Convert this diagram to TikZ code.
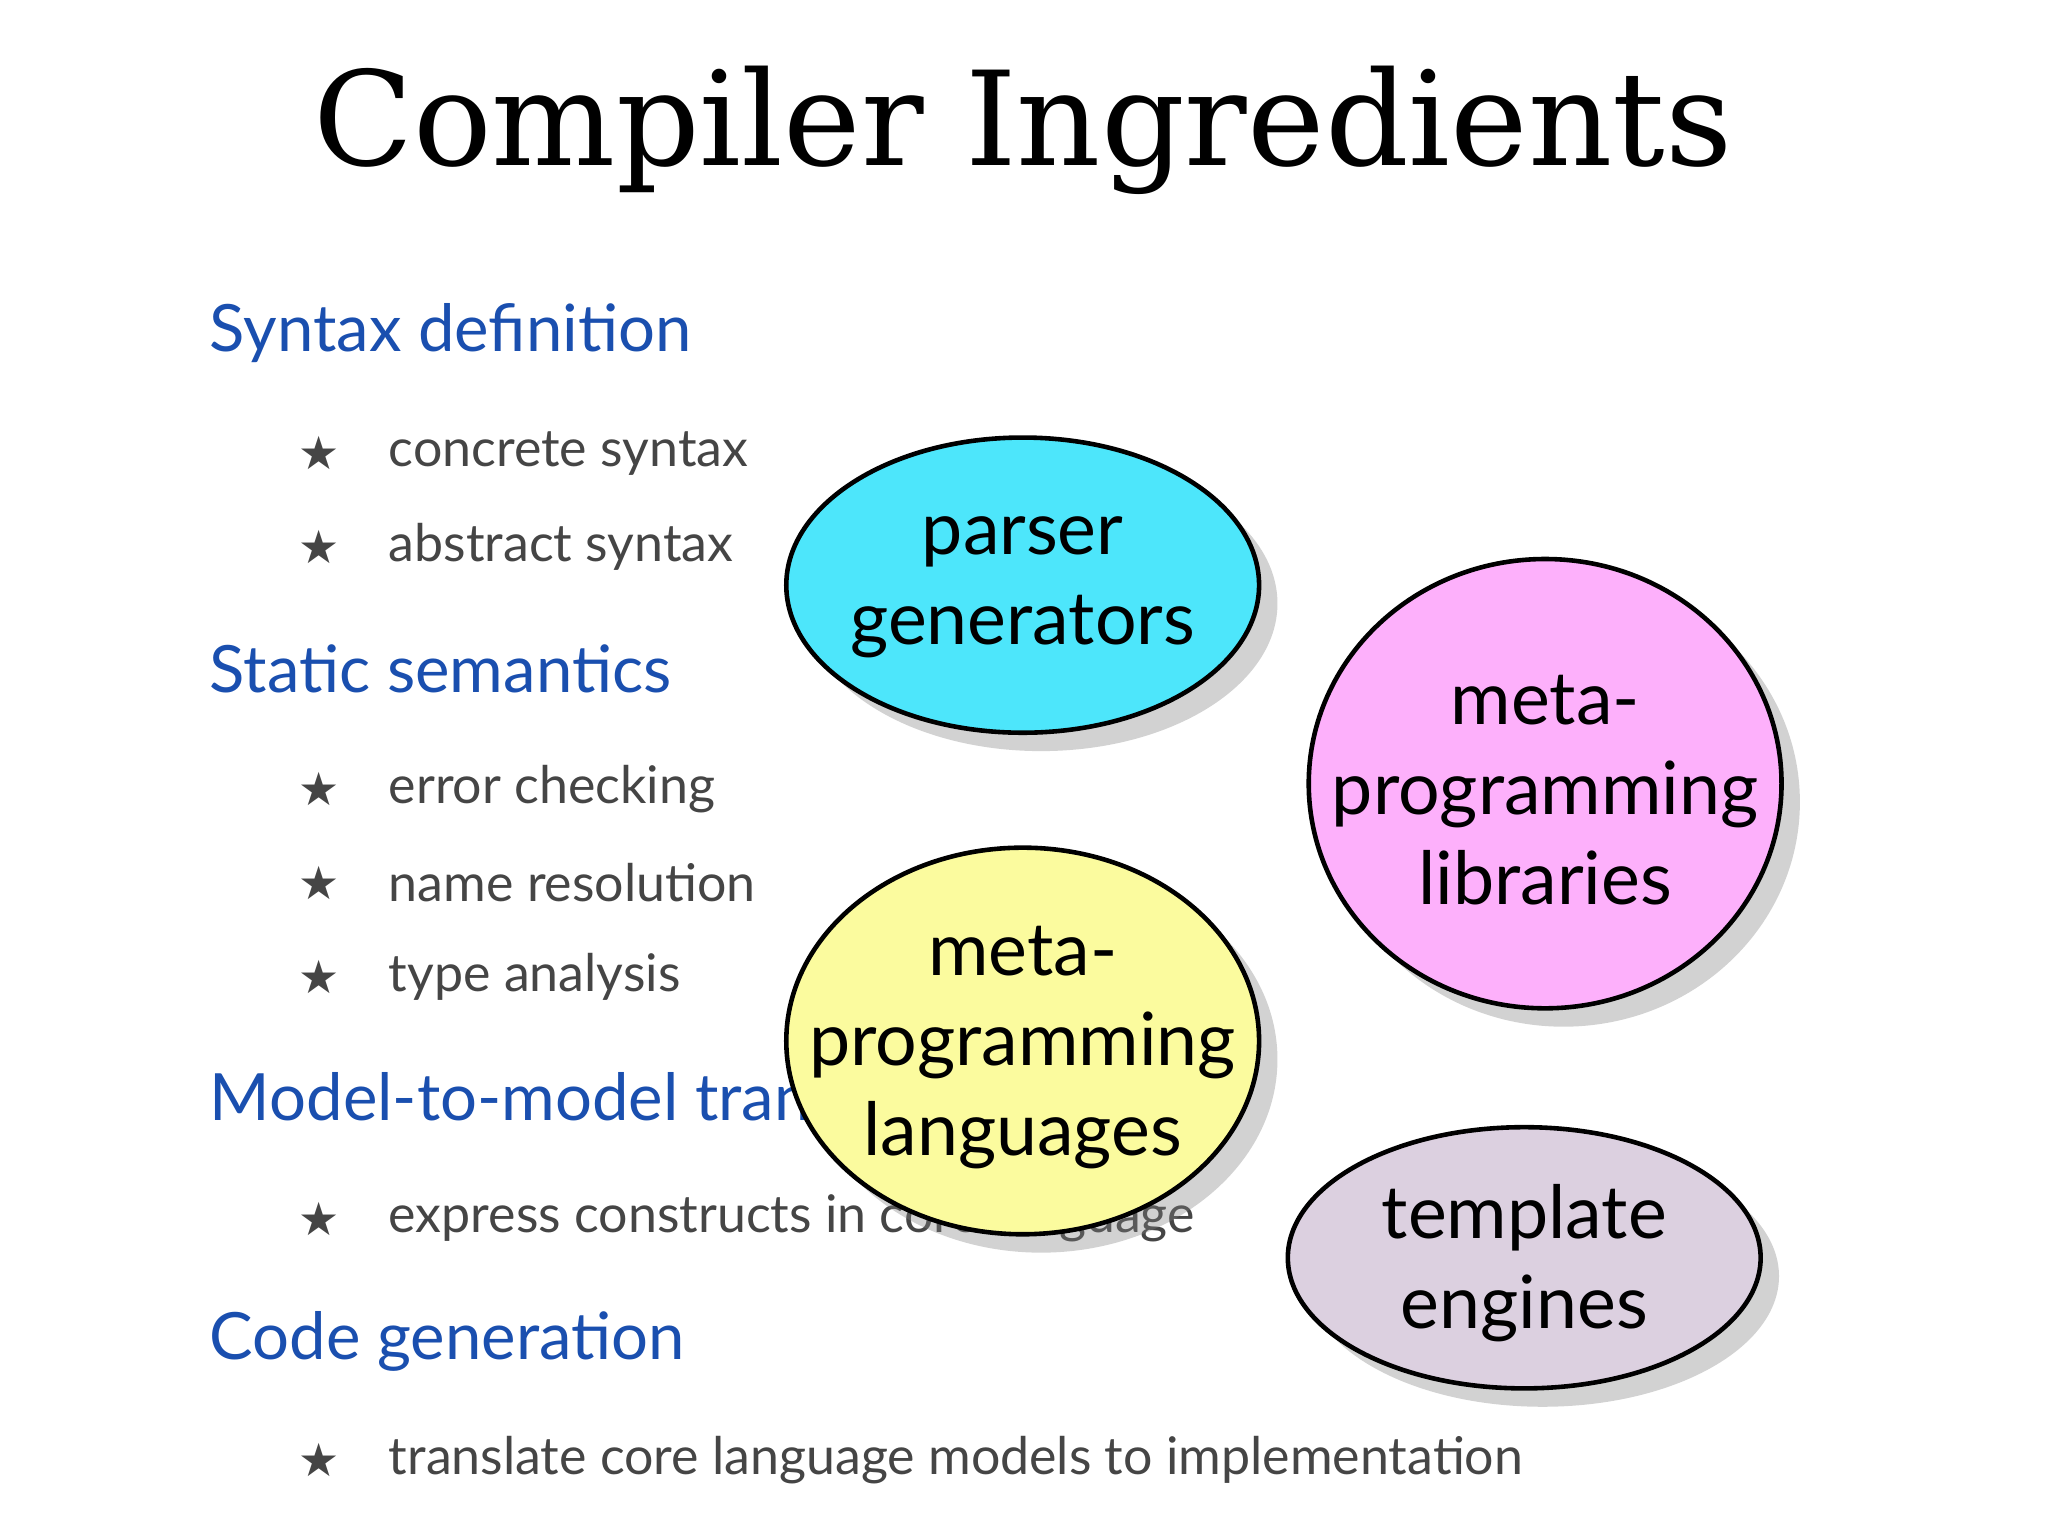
\documentclass[tikz,border=0pt]{standalone}
\usepackage{fontspec}
\setmainfont{Lato}
\newfontfamily\titlefont{DejaVu Serif}
\newfontfamily\symfont{DejaVu Sans}
\usetikzlibrary{shadows}
\definecolor{headblue}{HTML}{1A4FAF}
\definecolor{bodygray}{HTML}{454545}
\definecolor{cyanE}{HTML}{4DE6FB}
\definecolor{pinkE}{HTML}{FDB0FB}
\definecolor{yellowE}{HTML}{FBFB9E}
\definecolor{lavE}{HTML}{DCD0E0}
\tikzset{
  head/.style={anchor=west,inner sep=0pt,text=headblue,font=\fontsize{14.2}{17}\selectfont},
  item/.style={anchor=west,inner sep=0pt,text=bodygray,font=\fontsize{11.3}{14}\selectfont},
  star/.style={text=bodygray,font=\symfont\fontsize{10}{12}\selectfont},
  blob/.style={draw=black,line width=1pt,drop shadow={shadow xshift=4pt,shadow yshift=-4pt,opacity=0.35}},
  blobtext/.style={align=center,font=\fontsize{16}{19.6}\selectfont}
}
\begin{document}
\begin{tikzpicture}[x=0.01cm,y=-0.01cm]
\path[use as bounding box,fill=white] (0,0) rectangle (1568,1176);
\node[font=\titlefont\fontsize{28.5}{34}\selectfont] (title) at (783,100) {Compiler Ingredients};
\node[head] (h1) at (160,255) {Syntax definition};
\node[star] (s1) at (244,347) {★}; \node[item] (i1) at (297,347) {concrete syntax};
\node[star] (s2) at (244,419) {★}; \node[item] (i2) at (297,419) {abstract syntax};
\node[head] (h2) at (160,512) {Static semantics};
\node[star] (s3) at (244,604) {★}; \node[item] (i3) at (297,604) {error checking};
\node[star] (s4) at (244,676) {★}; \node[item] (i4) at (297,676) {name resolution};
\node[star] (s5) at (244,748) {★}; \node[item] (i5) at (297,748) {type analysis};
\node[head] (h3) at (160,840) {Model-to-model transformation};
\node[star] (s6) at (244,933) {★}; \node[item] (i6) at (297,933) {express constructs in core language};
\node[head] (h4) at (160,1027) {Code generation};
\node[star] (s7) at (244,1118) {★}; \node[item] (i7) at (297,1118) {translate core language models to implementation};
% blobs
\fill[blob,fill=cyanE] (783,448) ellipse [x radius=181,y radius=113];
\node[blobtext] (pg) at (783,450) {parser\\generators};
\fill[blob,fill=pinkE] (1183,600) ellipse [x radius=181,y radius=172];
\node[blobtext] (mpl) at (1183,605) {meta-\\programming\\libraries};
\fill[blob,fill=yellowE] (783,797) ellipse [x radius=181,y radius=148];
\node[blobtext] (mpg) at (783,802) {meta-\\programming\\languages};
\fill[blob,fill=lavE] (1167,963) ellipse [x radius=181,y radius=100];
\node[blobtext] (te) at (1167,967) {template\\engines};
\end{tikzpicture}
\end{document}
